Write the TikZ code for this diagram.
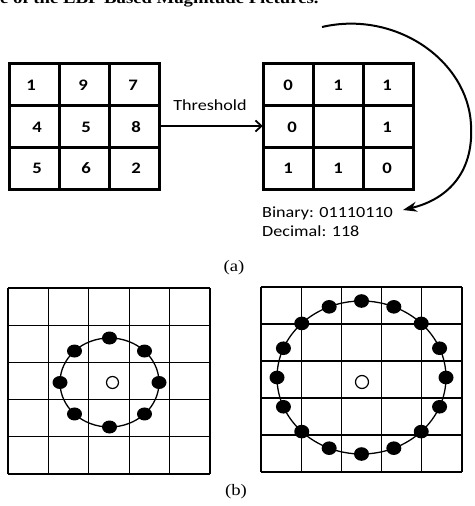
\documentclass[tikz,border=0pt]{standalone}
\usepackage{fontspec}
\setmainfont{Liberation Serif}
\newfontfamily\calfont{Carlito}
\usetikzlibrary{arrows.meta}
\newcommand{\wide}[1]{\scalebox{1.17}[1]{#1}}
\tikzset{
  thickgrid/.style={line width=3pt, line cap=rect},
  thingrid/.style={line width=1.3pt},
  numtxt/.style={font=\calfont\bfseries\fontsize{16}{16}\selectfont, inner sep=0pt},
  sanstxt/.style={font=\calfont\fontsize{15.5}{17}\selectfont, inner sep=0pt},
  captxt/.style={font=\fontsize{16}{16}\selectfont, inner sep=0pt},
  bdot/.style={fill=black},
  gridbox/.style={inner sep=0pt, draw=none},
}
\begin{document}
\begin{tikzpicture}[x=1pt, y=-1pt]
\useasboundingbox (0,0) rectangle (474,506);
% cut-off caption at top
\node[anchor=base west, inner sep=0pt, font=\bfseries\fontsize{16}{16}\selectfont] (topcap) at (0,4) {\wide{e of the LBP Based Magnitude Pictures.}};

% ---------- (a) ----------
\node[gridbox, minimum width=150pt, minimum height=126pt] (gL) at (84,126) {};
\node[gridbox, minimum width=150pt, minimum height=126pt] (gR) at (338,126) {};
\foreach \x in {9,59,109,159} \draw[thickgrid] (\x,63) -- (\x,189);
\foreach \y in {63,105,147,189} \draw[thickgrid] (9,\y) -- (159,\y);
\foreach \x in {263,313,363,413} \draw[thickgrid] (\x,63) -- (\x,189);
\foreach \y in {63,105,147,189} \draw[thickgrid] (263,\y) -- (413,\y);

\node[numtxt] (l11) at (31,85) {\wide{1}};
\node[numtxt] (l12) at (83,85) {\wide{9}};
\node[numtxt] (l13) at (133,85) {\wide{7}};
\node[numtxt] (l21) at (37,127) {\wide{4}};
\node[numtxt] (l22) at (86,127) {\wide{5}};
\node[numtxt] (l23) at (136,127) {\wide{8}};
\node[numtxt] (l31) at (37,168) {\wide{5}};
\node[numtxt] (l32) at (86,168) {\wide{6}};
\node[numtxt] (l33) at (136,168) {\wide{2}};

\node[numtxt] (r11) at (288,85) {\wide{0}};
\node[numtxt] (r12) at (338,85) {\wide{1}};
\node[numtxt] (r13) at (387,85) {\wide{1}};
\node[numtxt] (r21) at (292,127) {\wide{0}};
\node[numtxt] (r23) at (387,127) {\wide{1}};
\node[numtxt] (r31) at (288,168) {\wide{1}};
\node[numtxt] (r32) at (338,168) {\wide{1}};
\node[numtxt] (r33) at (387,168) {\wide{0}};

\draw[line width=1.8pt, -{Straight Barb[length=6pt, width=11pt]}] (gL.east) -- (gR.west);
\node[sanstxt, anchor=base] (thr) at (210,110.7) {\wide{Threshold}};

\node[sanstxt, anchor=base west] (bin) at (262,217.3) {\wide{Binary: 01110110}};
\node[sanstxt, anchor=base west] (dec) at (262,236.7) {\wide{Decimal: 118}};
\coordinate (arcS) at (322,27);
\coordinate (arcM) at (471,125);
\coordinate (arcE) at (403,210);
\draw[line width=2pt, -{Stealth[length=14pt, width=10pt]}] (arcS) .. controls (395,10) and (468,60) .. (arcM) .. controls (474,175) and (445,200) .. (arcE);

\node[captxt] (capa) at (234,268) {\wide{(a)}};

% ---------- (b) ----------
\foreach \i in {0,...,5} {
  \draw[thingrid] ({8+40.4*\i},288) -- ({8+40.4*\i},474);
  \draw[thingrid] (8,{288+37.2*\i}) -- (210,{288+37.2*\i});
  \draw[thingrid] ({261+40.2*\i},287) -- ({261+40.2*\i},472);
  \draw[thingrid] (261,{287+37*\i}) -- (462,{287+37*\i});
}
\coordinate (cL) at (109.5,382.5);
\coordinate (cR) at (361.5,377.5);
\draw[thingrid] (cL) ellipse [x radius=49.5, y radius=44.5];
\draw[thingrid] (cR) ellipse [x radius=84.5, y radius=76.5];
\foreach \a in {0,45,...,315}
  \fill[bdot] ({109.5+49.5*cos(\a)},{382.5+44.5*sin(\a)}) ellipse [x radius=7.5, y radius=6.5];
\foreach \a in {0,22.5,...,337.5}
  \fill[bdot] ({361.5+84.5*cos(\a)},{377.5+76.5*sin(\a)}) ellipse [x radius=7.5, y radius=6.8];
\draw[line width=1.2pt, fill=white] (112.5,382.5) ellipse [x radius=6, y radius=6];
\draw[line width=1.2pt, fill=white] (362,382) ellipse [x radius=6.5, y radius=6.5];

\node[captxt] (capb) at (236,492) {\wide{(b)}};
\end{tikzpicture}
\end{document}
